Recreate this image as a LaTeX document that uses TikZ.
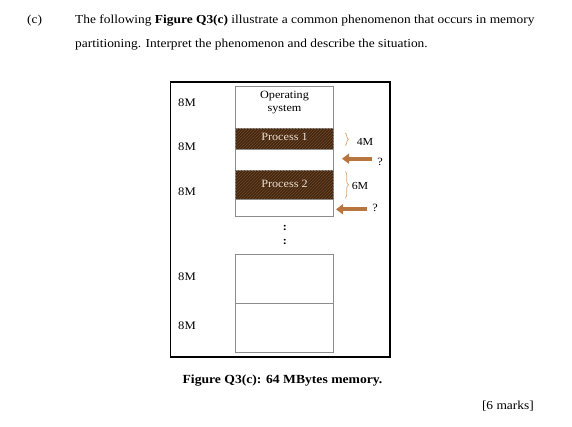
\documentclass[tikz,border=0pt]{standalone}
\usepackage{fontspec}
\setmainfont[FakeStretch=1.1]{Liberation Serif}
\usetikzlibrary{patterns,arrows.meta,decorations.pathreplacing}
\definecolor{procbrown}{HTML}{45270F}
\definecolor{hatchbrown}{HTML}{6E4A2A}
\definecolor{arrowbrown}{HTML}{B8763E}
\definecolor{bracecol}{HTML}{D9A673}
\definecolor{segborder}{HTML}{8C8C8C}
\definecolor{proctext}{HTML}{EADFD0}
\begin{document}
\begin{tikzpicture}[x=1pt,y=-1pt,
  seg/.style={draw=segborder, line width=0.8pt, minimum width=98.4pt, inner sep=0pt, outer sep=0pt},
  proc/.style={seg, fill=procbrown, postaction={pattern=north east lines, pattern color=hatchbrown}},
  sizelbl/.style={font=\fontsize{11.5}{13}\selectfont, inner sep=0pt},
  inlbl/.style={font=\fontsize{11.1}{13}\selectfont, inner sep=0pt},
  txt/.style={font=\fontsize{12.2}{15}\selectfont, inner sep=0pt, anchor=base west},
  bracestyle/.style={draw=bracecol, line width=0.7pt, decorate, decoration={brace, amplitude=3.5pt}},
  bigarrow/.style={draw=arrowbrown, line width=4pt, -{Triangle[length=7pt,width=10pt]}}
]
\useasboundingbox (0,0) rectangle (572,427);
% header text
\node[txt] (lab) at (27,24) {(c)};
\node[txt] (l1) at (75,24) {The following \textbf{Figure Q3(c)} illustrate a common phenomenon that occurs in memory};
\node[txt] (l2) at (75,48) {partitioning. Interpret the phenomenon and describe the situation.};
% frame
\draw[line width=1.4pt] (170.7,82) rectangle (390,357);
% memory column
\node[seg, minimum height=42.3pt] (os) at (284.5,107.15) {};
\node[proc, minimum height=21pt] (p1) at (284.5,138.8) {};
\node[seg, minimum height=21.4pt] (f1) at (284.5,160) {};
\node[proc, minimum height=28.6pt] (p2) at (284.5,185) {};
\node[seg, minimum height=17.4pt] (f2) at (284.5,208) {};
\node[seg, minimum height=49pt] (b4) at (284.5,278.8) {};
\node[seg, minimum height=49.4pt] (b5) at (284.5,328) {};
% texts inside
\node[inlbl, align=center, font=\fontsize{11.1}{13}\selectfont] (ost) at (284.5,103) {Operating\\system};
\node[inlbl, text=proctext] (p1t) at (284.5,136.5) {Process 1};
\node[inlbl, text=proctext] (p2t) at (284.5,183.5) {Process 2};
% dots
\node[sizelbl, font=\bfseries\fontsize{11}{12}\selectfont] (d1) at (285,228) {:};
\node[sizelbl, font=\bfseries\fontsize{11}{12}\selectfont] (d2) at (285,242) {:};
% size labels
\node[sizelbl] (s1) at (187,103) {8M};
\node[sizelbl] (s2) at (187,147) {8M};
\node[sizelbl] (s3) at (187,192) {8M};
\node[sizelbl] (s4) at (187,277) {8M};
\node[sizelbl] (s5) at (187,326) {8M};
% braces
\coordinate (b1t) at (345,133);
\coordinate (b1b) at (345,145.5);
\coordinate (b2t) at (345,171.5);
\coordinate (b2b) at (345,198);
\draw[bracestyle] (b1t) -- (b1b);
\draw[bracestyle] (b2t) -- (b2b);
\node[inlbl, font=\fontsize{10.8}{13}\selectfont] (m4) at (365,142) {4M};
\node[inlbl, font=\fontsize{10.8}{13}\selectfont] (m6) at (360,186) {6M};
% arrows
\coordinate (a1s) at (372,158.7);
\coordinate (a1e) at (342,158.7);
\coordinate (a2s) at (367,209.3);
\coordinate (a2e) at (336,209.3);
\draw[bigarrow] (a1s) -- (a1e);
\draw[bigarrow] (a2s) -- (a2e);
\node[inlbl] (q1) at (380,162) {?};
\node[inlbl] (q2) at (375,208) {?};
% caption
\node[inlbl, font=\bfseries\fontsize{12.4}{14}\selectfont] (cap) at (282.5,381) {Figure Q3(c): 64 MBytes memory.};
\node[txt, anchor=base east] (marks) at (534,409) {[6 marks]};
\end{tikzpicture}
\end{document}
